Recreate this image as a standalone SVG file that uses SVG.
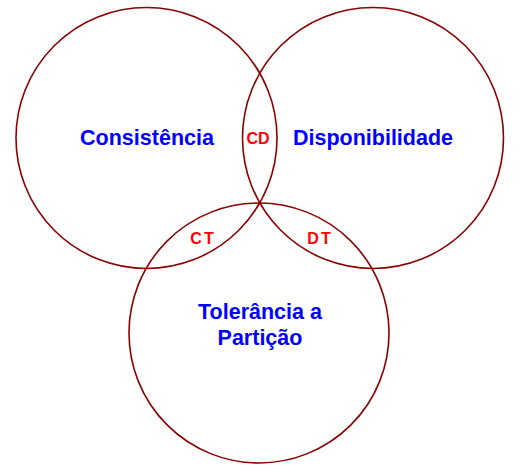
<svg xmlns="http://www.w3.org/2000/svg" width="520" height="473" viewBox="0 0 520 473">
<style>
.c{fill:none;stroke:#8b0000;stroke-width:1.6}
.t{font-family:"Liberation Sans",Arial,sans-serif;font-weight:bold;font-size:21.5px;fill:#0000ff;text-anchor:middle}
.s{font-family:"Liberation Sans",Arial,sans-serif;font-weight:bold;font-size:16px;fill:#ff0000;text-anchor:middle}
.w{letter-spacing:2px}
</style>
<rect width="520" height="473" fill="#ffffff"/>
<g id="consistencia"><circle class="c" cx="146.5" cy="138" r="130.5"/><text class="t" x="147" y="145">Consistência</text></g>
<g id="disponibilidade"><circle class="c" cx="373" cy="138" r="130.5"/><text class="t" x="373" y="145">Disponibilidade</text></g>
<g id="tolerancia"><circle class="c" cx="259" cy="333" r="130"/><text class="t" x="260" y="319">Tolerância a</text><text class="t" x="260" y="345">Partição</text></g>
<g id="cd"><text class="s" x="258" y="144">CD</text></g>
<g id="ct"><text class="s w" x="203" y="244">CT</text></g>
<g id="dt"><text class="s w" x="320" y="244">DT</text></g>
</svg>
